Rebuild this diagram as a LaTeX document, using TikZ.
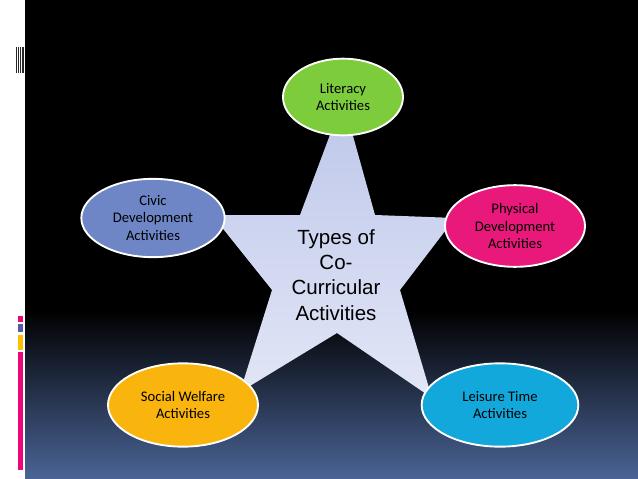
\documentclass[tikz,border=0pt]{standalone}
\usepackage{fontspec}
\setmainfont{Carlito}
\newfontfamily\arialf{Liberation Sans}
\usetikzlibrary{shapes.geometric}
\definecolor{bgblue}{HTML}{4A6496}
\begin{document}
\begin{tikzpicture}[x=0.03cm,y=-0.03cm,
  oval/.style={ellipse,draw=white,line width=1.6pt,align=center,font=\fontsize{12.5}{15}\selectfont,text=black,inner sep=0pt}]
\useasboundingbox (0,0) rectangle (638,479);
\fill[white] (0,0) rectangle (638,479);
\fill[black] (25,0) rectangle (638,310);
\shade[top color=black,bottom color=bgblue] (25,310) rectangle (638,479);
% barcode
\foreach \x in {15.5,17.5,19.5,21.5,23.3} \fill[black!85] (\x,47) rectangle (\x+0.9,73);
% colour bars
\fill[magenta!80!red] (18,316) rectangle (23,322);
\fill[gray!70!blue] (18,324) rectangle (23,332);
\fill[orange!50!yellow] (18,335) rectangle (23,350);
\fill[magenta!80!red] (18,352) rectangle (23,470);
% star
\shade[top color={rgb,255:red,190;green,199;blue,234},bottom color={rgb,255:red,226;green,230;blue,246},draw=none]
 (343,100) -- (375,215) -- (455,218) -- (400,290) -- (432,398) -- (337,333) -- (240,392) -- (272,290) -- (212,215) -- (300,215) -- cycle;
\node[align=center,font=\arialf\fontsize{17.5}{21.6}\selectfont] (c) at (336,275) {Types of\\Co-\\Curricular\\Activities};
\node[oval,fill={rgb,255:red,125;green,204;blue,60},minimum width=3.6cm,minimum height=2.3cm] (lit) at (343,97) {Literacy\\Activities};
\node[oval,fill={rgb,255:red,111;green,134;blue,198},minimum width=4.3cm,minimum height=2.35cm] (civ) at (153,218) {Civic\\Development\\Activities};
\node[oval,fill={rgb,255:red,232;green,25;blue,123},minimum width=4.2cm,minimum height=2.45cm] (phy) at (515,226) {Physical\\Development\\Activities};
\node[oval,fill={rgb,255:red,249;green,181;blue,13},minimum width=4.5cm,minimum height=2.5cm] (soc) at (183,405) {Social Welfare\\Activities};
\node[oval,fill={rgb,255:red,19;green,168;blue,219},minimum width=4.7cm,minimum height=2.5cm] (lei) at (500,405) {Leisure Time\\Activities};
\end{tikzpicture}
\end{document}
